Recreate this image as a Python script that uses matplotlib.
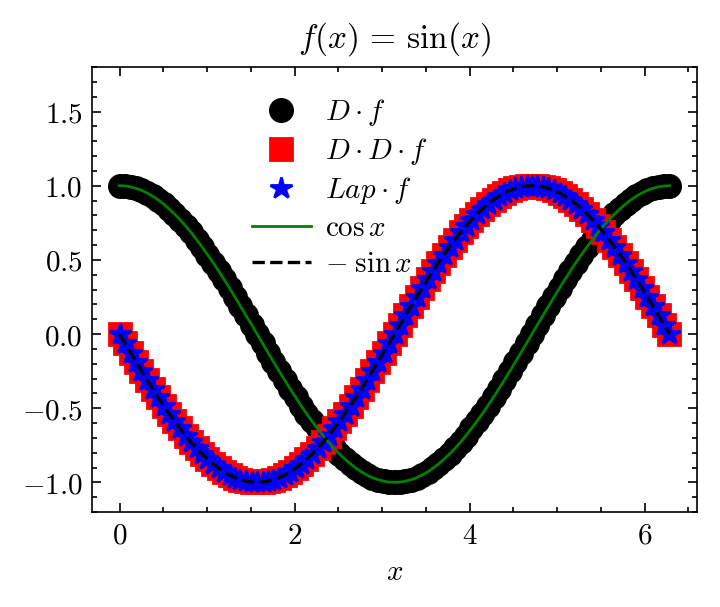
import matplotlib
matplotlib.use("Agg")
import matplotlib.pyplot as plt
from matplotlib.ticker import MultipleLocator, FuncFormatter

plt.rcParams['mathtext.fontset'] = 'cm'
plt.rcParams['font.family'] = ['DejaVu Serif']
plt.rcParams['font.size'] = 10.5

# x samples on [0, 2*pi]
x = [0.000, 0.063, 0.126, 0.188, 0.251, 0.314, 0.377, 0.440, 0.503, 0.565,
     0.628, 0.691, 0.754, 0.817, 0.880, 0.942, 1.005, 1.068, 1.131, 1.194,
     1.257, 1.319, 1.382, 1.445, 1.508, 1.571, 1.634, 1.696, 1.759, 1.822,
     1.885, 1.948, 2.011, 2.073, 2.136, 2.199, 2.262, 2.325, 2.388, 2.450,
     2.513, 2.576, 2.639, 2.702, 2.765, 2.827, 2.890, 2.953, 3.016, 3.079,
     3.142, 3.204, 3.267, 3.330, 3.393, 3.456, 3.519, 3.581, 3.644, 3.707,
     3.770, 3.833, 3.896, 3.958, 4.021, 4.084, 4.147, 4.210, 4.273, 4.335,
     4.398, 4.461, 4.524, 4.587, 4.650, 4.712, 4.775, 4.838, 4.901, 4.964,
     5.027, 5.089, 5.152, 5.215, 5.278, 5.341, 5.404, 5.466, 5.529, 5.592,
     5.655, 5.718, 5.781, 5.843, 5.906, 5.969, 6.032, 6.095, 6.158, 6.220,
     6.283]

# D.f values (first derivative) == cos x curve
d_f = [1.000, 0.998, 0.992, 0.982, 0.969, 0.951, 0.930, 0.905, 0.876, 0.844,
       0.809, 0.771, 0.729, 0.685, 0.637, 0.588, 0.536, 0.482, 0.426, 0.368,
       0.309, 0.249, 0.187, 0.125, 0.063, 0.000,
       -0.063, -0.125, -0.187, -0.249, -0.309, -0.368, -0.426, -0.482, -0.536, -0.588,
       -0.637, -0.685, -0.729, -0.771, -0.809, -0.844, -0.876, -0.905, -0.930, -0.951,
       -0.969, -0.982, -0.992, -0.998, -1.000,
       -0.998, -0.992, -0.982, -0.969, -0.951, -0.930, -0.905, -0.876, -0.844, -0.809,
       -0.771, -0.729, -0.685, -0.637, -0.588, -0.536, -0.482, -0.426, -0.368, -0.309,
       -0.249, -0.187, -0.125, -0.063, 0.000,
       0.063, 0.125, 0.187, 0.249, 0.309, 0.368, 0.426, 0.482, 0.536, 0.588,
       0.637, 0.685, 0.729, 0.771, 0.809, 0.844, 0.876, 0.905, 0.930, 0.951,
       0.969, 0.982, 0.992, 0.998, 1.000]

# D.D.f values (second derivative) == -sin x curve
dd_f = [0.000, -0.063, -0.125, -0.187, -0.249, -0.309, -0.368, -0.426, -0.482, -0.536,
        -0.588, -0.637, -0.685, -0.729, -0.771, -0.809, -0.844, -0.876, -0.905, -0.930,
        -0.951, -0.969, -0.982, -0.992, -0.998, -1.000,
        -0.998, -0.992, -0.982, -0.969, -0.951, -0.930, -0.905, -0.876, -0.844, -0.809,
        -0.771, -0.729, -0.685, -0.637, -0.588, -0.536, -0.482, -0.426, -0.368, -0.309,
        -0.249, -0.187, -0.125, -0.063, 0.000,
        0.063, 0.125, 0.187, 0.249, 0.309, 0.368, 0.426, 0.482, 0.536, 0.588,
        0.637, 0.685, 0.729, 0.771, 0.809, 0.844, 0.876, 0.905, 0.930, 0.951,
        0.969, 0.982, 0.992, 0.998, 1.000,
        0.998, 0.992, 0.982, 0.969, 0.951, 0.930, 0.905, 0.876, 0.844, 0.809,
        0.771, 0.729, 0.685, 0.637, 0.588, 0.536, 0.482, 0.426, 0.368, 0.309,
        0.249, 0.187, 0.125, 0.063, 0.000]

# Laplacian values (same as second derivative)
lap_f = list(dd_f)
cos_x = list(d_f)
neg_sin_x = list(dd_f)

labels = [r"$D\cdot f$", r"$D\cdot D\cdot f$", r"$Lap\cdot f$",
          r"$\cos x$", r"$-\;\sin x$"]
xticks = [0, 2, 4, 6]

fig = plt.figure(figsize=(3.6, 3.035), dpi=200)
ax = fig.add_axes([0.1278, 0.1565, 0.8402, 0.7331])

ax.plot(x, d_f, 'o', color='k', ms=8, label=labels[0])
ax.plot(x, dd_f, 's', color='r', ms=8, label=labels[1])
ax.plot(x, lap_f, '*', color='b', ms=8, label=labels[2])
ax.plot(x, cos_x, '-', color='g', lw=1.0, label=labels[3])
ax.plot(x, neg_sin_x, '--', color='k', lw=1.2, label=labels[4])

ax.set_ylim(-1.2, 1.8)
ax.set_xticks(xticks)
ax.xaxis.set_minor_locator(MultipleLocator(0.5))
ax.yaxis.set_major_locator(MultipleLocator(0.5))
ax.yaxis.set_minor_locator(MultipleLocator(0.1))
ax.xaxis.set_major_formatter(FuncFormatter(lambda v, p: r"$%d$" % round(v)))
ax.yaxis.set_major_formatter(FuncFormatter(lambda v, p: r"$%.1f$" % v))

ax.tick_params(which='both', direction='in', top=True, right=True, width=0.6)
ax.tick_params(which='major', length=3.3)
ax.tick_params(which='minor', length=1.7)
for s in ax.spines.values():
    s.set_linewidth(0.6)

ax.set_title(r"$f(x)\,=\,\sin(x)$", fontsize=12, pad=7)
ax.set_xlabel(r"$x$", labelpad=3)

ax.legend(loc='upper left', bbox_to_anchor=(0.265, 0.933), frameon=False,
          numpoints=1, handlelength=2.0, handletextpad=0.5, labelspacing=0.28,
          borderpad=0, borderaxespad=0)

fig.savefig("out.png", dpi=200)
